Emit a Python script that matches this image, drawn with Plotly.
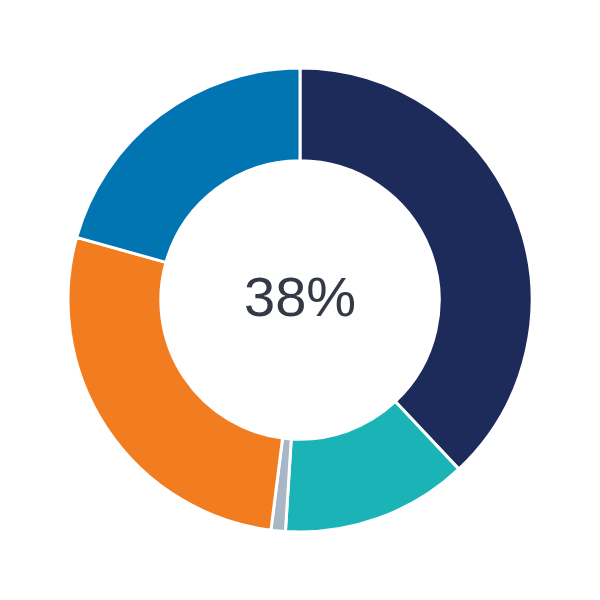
import plotly.graph_objects as go

labels = ["Segment A", "Segment B", "Segment C", "Segment D", "Segment E"]
values = [38, 13, 1, 27.35, 20.65]
colors = ["#1c2b5a", "#1ab3b6", "#a9b6c6", "#f27c20", "#0075b2"]
center_text = "38%"

fig = go.Figure(go.Pie(
    labels=labels,
    values=values,
    hole=0.6,
    sort=False,
    direction="clockwise",
    rotation=0,
    textinfo="none",
    hoverinfo="label+percent",
    marker=dict(colors=colors, line=dict(color="#ffffff", width=3)),
))

fig.update_layout(
    width=600, height=600,
    margin=dict(l=60, r=76, t=60, b=76),
    showlegend=False,
    paper_bgcolor="#ffffff",
    plot_bgcolor="#ffffff",
    annotations=[dict(
        text=center_text, x=0.5, y=0.5, xref="paper", yref="paper",
        showarrow=False, yshift=4,
        font=dict(family="Liberation Sans, Arial, sans-serif", size=56, color="#343a45"),
    )],
)

fig.write_html("out.html")
